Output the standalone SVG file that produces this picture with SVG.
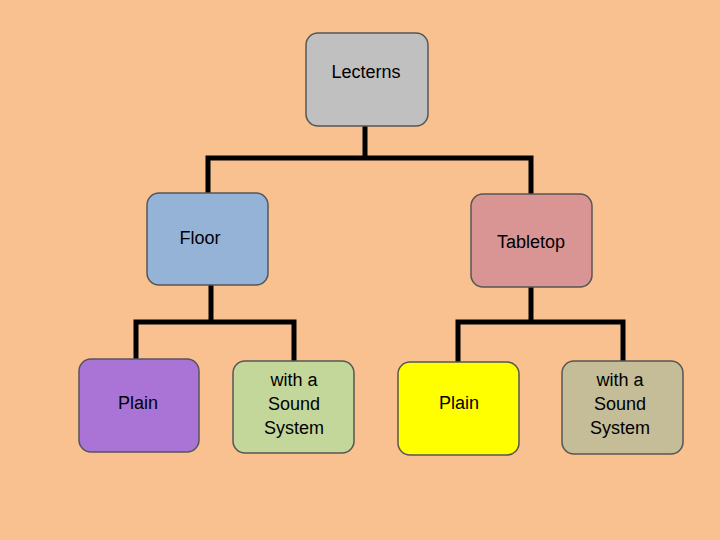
<svg xmlns="http://www.w3.org/2000/svg" width="720" height="540" viewBox="0 0 720 540">
<style>
.n{stroke:#555;stroke-width:1.5}
.t{font-family:"Liberation Sans",Arial,sans-serif;font-size:18px;fill:#000;text-anchor:middle}
.c{stroke:#000;stroke-width:5;fill:none;stroke-linecap:square}
</style>
<rect width="720" height="540" fill="#f9c090"/>
<g id="connectors">
<path class="c" d="M365 127V158M208 158H531M208 158V192M531 158V193"/>
<path class="c" d="M211 286V321M136 322H294M136 322V358M294 322V360"/>
<path class="c" d="M531 288V322M458 322H623M458 322V361M623 322V360"/>
</g>
<g id="lecterns"><rect class="n" x="306" y="33" width="122" height="93" rx="12" fill="#c0c0c0"/><text class="t" x="366" y="78">Lecterns</text></g>
<g id="floor"><rect class="n" x="147" y="193" width="121" height="92" rx="12" fill="#95b3d7"/><text class="t" x="200" y="244">Floor</text></g>
<g id="tabletop"><rect class="n" x="471" y="194" width="121" height="93" rx="12" fill="#d99594"/><text class="t" x="531" y="248">Tabletop</text></g>
<g id="plain1"><rect class="n" x="79" y="359" width="120" height="93" rx="12" fill="#a974d6"/><text class="t" x="138" y="409">Plain</text></g>
<g id="sound1"><rect class="n" x="233" y="361" width="121" height="92" rx="12" fill="#c4d79b"/><text class="t" x="294" y="386">with a</text><text class="t" x="294" y="410">Sound</text><text class="t" x="294" y="434">System</text></g>
<g id="plain2"><rect class="n" x="398" y="362" width="121" height="93" rx="12" fill="#ffff00"/><text class="t" x="459" y="409">Plain</text></g>
<g id="sound2"><rect class="n" x="562" y="361" width="121" height="93" rx="12" fill="#c4bd97"/><text class="t" x="620" y="386">with a</text><text class="t" x="620" y="410">Sound</text><text class="t" x="620" y="434">System</text></g>
</svg>
